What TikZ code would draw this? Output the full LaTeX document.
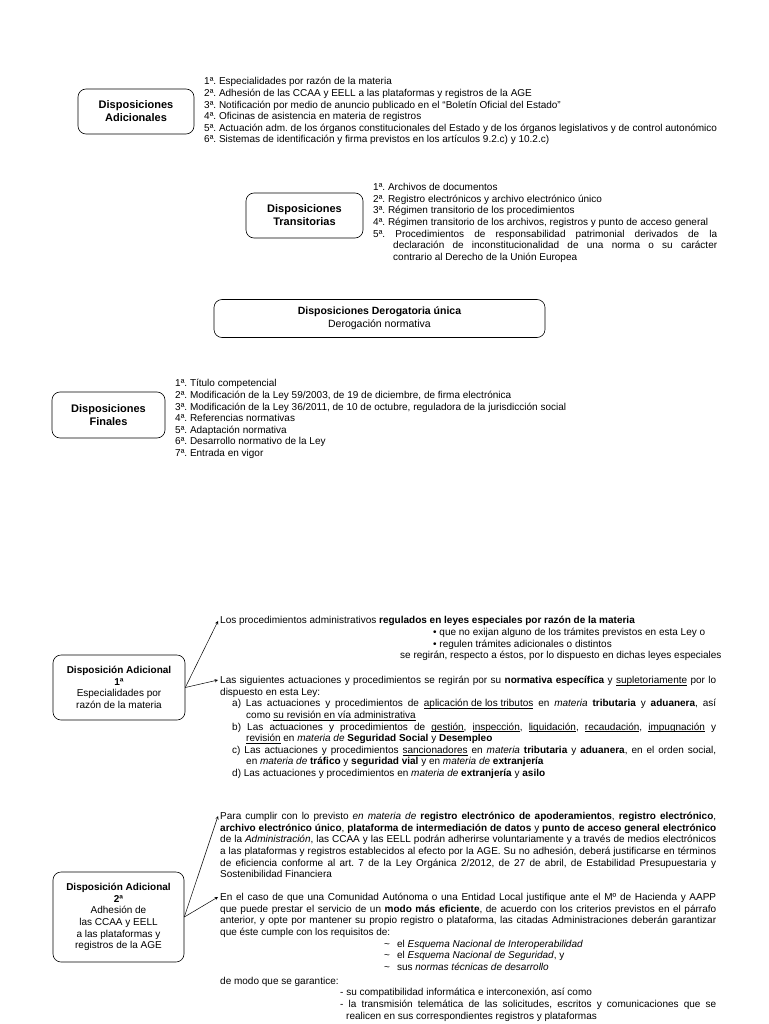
\documentclass[tikz,border=0pt]{standalone}
\usepackage{fontspec}
\setmainfont{Liberation Sans}
\hyphenpenalty=10000
\exhyphenpenalty=10000
\tolerance=9999
\frenchspacing
\newcommand\subr[1]{\leavevmode\setbox0\hbox{#1}\rlap{\rule[-1.7pt]{\wd0}{0.5pt}}\box0\relax}
\tikzset{
  caja/.style={draw, line width=0.6pt, rounded corners=8pt, align=center, inner sep=2pt},
  cajatit/.style={caja, font=\fontsize{11}{13}\selectfont\bfseries},
  cajada/.style={caja, font=\fontsize{10}{11.6}\selectfont},
  texto/.style={anchor=north west, inner sep=0pt, font=\fontsize{10}{11.6}\selectfont\frenchspacing, execute at begin node=\strut},
  flecha/.style={-stealth, line width=0.5pt}
}

\begin{document}
\begin{tikzpicture}[x=1pt, y=-1pt]
\useasboundingbox (0,0) rectangle (768,1024);

\node[cajatit, minimum width=116pt, minimum height=45pt] (adic) at (136,111.5) {Disposiciones\\Adicionales};
\node[texto, align=left] (adiclista) at (204,77.4) {1ª. Especialidades por razón de la materia\\
2ª. Adhesión de las CCAA y EELL a las plataformas y registros de la AGE\\
3ª. Notificación por medio de anuncio publicado en el ``Boletín Oficial del Estado''\\
4ª. Oficinas de asistencia en materia de registros\\
5ª. Actuación adm. de los órganos constitucionales del Estado y de los órganos legislativos y de control autonómico\\
6ª. Sistemas de identificación y firma previstos en los artículos 9.2.c) y 10.2.c)};

\node[cajatit, minimum width=117pt, minimum height=45pt] (trans) at (304.5,215.5) {Disposiciones\\Transitorias};
\node[texto, text width=344pt, align=justify] (translista) at (373,182.4) {1ª. Archivos de documentos\par
2ª. Registro electrónicos y archivo electrónico único\par
3ª. Régimen transitorio de los procedimientos\par
4ª. Régimen transitorio de los archivos, registros y punto de acceso general\par
\hangindent=20pt\hangafter=1 5ª. Procedimientos de responsabilidad patrimonial derivados de la\linebreak
declaración de inconstitucionalidad de una norma o su carácter\linebreak
contrario al Derecho de la Unión Europea\par};

\node[caja, font=\fontsize{10.5}{13}\selectfont, minimum width=331pt, minimum height=38pt] (derog) at (379.5,318.5) {\textbf{Disposiciones Derogatoria única}\\Derogación normativa};

\node[cajatit, minimum width=113pt, minimum height=46pt] (final) at (108.5,415) {Disposiciones\\Finales};
\node[texto, align=left] (finallista) at (175,379.4) {1ª. Título competencial\\
2ª. Modificación de la Ley 59/2003, de 19 de diciembre, de firma electrónica\\
3ª. Modificación de la Ley 36/2011, de 10 de octubre, reguladora de la jurisdicción social\\
4ª. Referencias normativas\\
5ª. Adaptación normativa\\
6ª. Desarrollo normativo de la Ley\\
7ª. Entrada en vigor};

\node[cajada, minimum width=132pt, minimum height=65pt] (da1) at (119,687.5) {\textbf{Disposición Adicional}\\\textbf{1ª}\\Especialidades por\\razón de la materia};
\node[texto, align=left] (da1a) at (220,616.4) {Los procedimientos administrativos \textbf{regulados en leyes especiales por razón de la materia}\\
\hspace*{213pt}\textbullet\ que no exijan alguno de los trámites previstos en esta Ley o\\
\hspace*{213pt}\textbullet\ regulen trámites adicionales o distintos\\
\hspace*{180pt}se regirán, respecto a éstos, por lo dispuesto en dichas leyes especiales};
\node[texto, text width=496pt, align=justify] (da1b) at (220,675.4) {Las siguientes actuaciones y procedimientos se regirán por su \textbf{normativa específica} y \subr{supletoriamente} por lo\linebreak
dispuesto en esta Ley:\par
\leftskip=12pt\hangindent=14pt\hangafter=1 a)~Las actuaciones y procedimientos de \subr{aplicación de los tributos} en \textit{materia} \textbf{tributaria} y \textbf{aduanera}, así\linebreak
como \subr{su revisión en vía administrativa}\par
\hangindent=14pt\hangafter=1 b)~Las actuaciones y procedimientos de \subr{gestión}, \subr{inspección}, \subr{liquidación}, \subr{recaudación}, \subr{impugnación} y\linebreak
\subr{revisión} en \textit{materia de} \textbf{Seguridad Social} y \textbf{Desempleo}\par
\hangindent=14pt\hangafter=1 c)~Las actuaciones y procedimientos \subr{sancionadores} en \textit{materia} \textbf{tributaria} y \textbf{aduanera}, en el orden social,\linebreak
en \textit{materia de} \textbf{tráfico} y \textbf{seguridad vial} y en \textit{materia de} \textbf{extranjería}\par
\hangindent=14pt\hangafter=1 d)~Las actuaciones y procedimientos en \textit{materia de} \textbf{extranjería} y \textbf{asilo}\par};

\coordinate (p1) at (218,621);
\coordinate (p2) at (218,680);
\draw[flecha] (da1.east) -- (p1);
\draw[flecha] (da1.east) -- (p2);

\node[cajada, minimum width=131pt, minimum height=90pt] (da2) at (118.5,917) {\textbf{Disposición Adicional}\\\textbf{2ª}\\Adhesión de\\las CCAA y EELL\\a las plataformas y\\registros de la AGE};
\node[texto, text width=496pt, align=justify] (da2a) at (220,811.4) {Para cumplir con lo previsto \textit{en materia de} \textbf{registro electrónico de apoderamientos}, \textbf{registro electrónico},\linebreak
\textbf{archivo electrónico único}, \textbf{plataforma de intermediación de datos} y \textbf{punto de acceso general electrónico}\linebreak
de la \textit{Administración}, las CCAA y las EELL podrán adherirse voluntariamente y a través de medios electrónicos\linebreak
a las plataformas y registros establecidos al efecto por la AGE. Su no adhesión, deberá justificarse en términos\linebreak
de eficiencia conforme al art. 7 de la Ley Orgánica 2/2012, de 27 de abril, de Estabilidad Presupuestaria y\linebreak
Sostenibilidad Financiera\par};
\node[texto, text width=496pt, align=justify] (da2b) at (220,892.4) {En el caso de que una Comunidad Autónoma o una Entidad Local justifique ante el Mº de Hacienda y AAPP\linebreak
que puede prestar el servicio de un \textbf{modo más eficiente}, de acuerdo con los criterios previstos en el párrafo\linebreak
anterior, y opte por mantener su propio registro o plataforma, las citadas Administraciones deberán garantizar\linebreak
que éste cumple con los requisitos de:\par
\leftskip=164pt \textasciitilde\hspace{7pt}el \textit{Esquema Nacional de Interoperabilidad}\\
\textasciitilde\hspace{7pt}el \textit{Esquema Nacional de Seguridad}, y\\
\textasciitilde\hspace{7pt}sus \textit{normas técnicas de desarrollo}\par
\vspace{2.4pt}\leftskip=0pt de modo que se garantice:\par
\leftskip=120pt - su compatibilidad informática e interconexión, así como\par
\hangindent=6pt\hangafter=1 - la transmisión telemática de las solicitudes, escritos y comunicaciones que se\linebreak
realicen en sus correspondientes registros y plataformas\par};

\coordinate (p3) at (218,816);
\coordinate (p4) at (218,897);
\draw[flecha] (da2.east) -- (p3);
\draw[flecha] (da2.east) -- (p4);
\end{tikzpicture}
\end{document}
